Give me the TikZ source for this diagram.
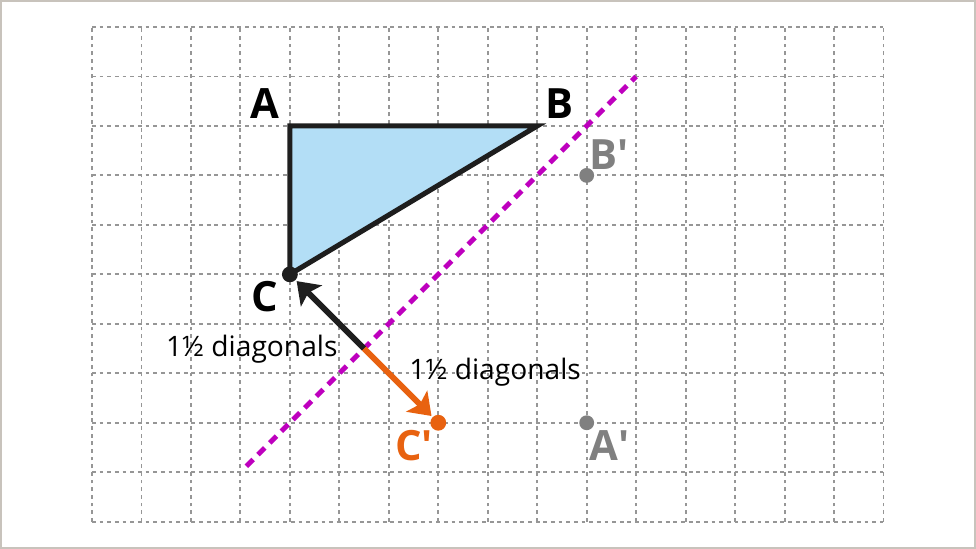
\documentclass[tikz,border=0pt]{standalone}
\usepackage{fontspec}
\setmainfont{Open Sans}
\usetikzlibrary{arrows.meta}
\definecolor{gridgray}{RGB}{150,150,150}
\definecolor{triblue}{RGB}{179,222,246}
\definecolor{mirror}{RGB}{190,0,190}
\definecolor{orng}{RGB}{232,98,16}
\definecolor{ptgray}{RGB}{128,128,128}
\definecolor{framegray}{RGB}{200,195,188}
\definecolor{ink}{RGB}{30,30,30}
\tikzset{
  gridline/.style={gridgray, line width=1.1pt, dash pattern=on 2.2pt off 2.2pt},
  tri/.style={ink, line width=2.9pt, line join=miter, fill=triblue},
  mirrorline/.style={mirror, line width=2.9pt, dash pattern=on 5.5pt off 4pt},
  dot/.style={circle, inner sep=0pt, minimum size=#1},
  vlabel/.style={font=\fontsize{24}{28}\selectfont\bfseries, inner sep=0pt},
  dlabel/.style={font=\fontsize{16.2}{19}\selectfont, inner sep=0pt},
  arr/.style={line width=3.4pt, -{Stealth[length=12pt, width=17pt, inset=2.5pt]}},
}
\begin{document}
\begin{tikzpicture}[x=1cm, y=-1cm]
\useasboundingbox (-1.860,-0.546) rectangle (17.870,10.552);
\draw[framegray, line width=1.5pt] (-1.845,-0.531) rectangle (17.855,10.537);
\draw[gridline] (0,0) grid (16,10);
% points
\coordinate (A) at (4,2);
\coordinate (B) at (9,2);
\coordinate (C) at (4,5);
\coordinate (Bp) at (10,3);
\coordinate (Ap) at (10,8);
\coordinate (Cp) at (7,8);
\coordinate (M) at (5.5,6.5);
\coordinate (L1) at (3.12,8.88);
\coordinate (L2) at (11,1);
% triangle
\draw[tri] (A) -- (B) -- (C) -- cycle;
% mirror line
\draw[mirrorline] (L1) -- (L2);
% arrows
\draw[arr, ink, shorten >=5.5pt] (M) -- (C);
\draw[arr, orng, shorten >=5.5pt] (M) -- (Cp);
% dots
\node[dot=0.32cm, fill=ink] (Cdot) at (C) {};
\node[dot=0.32cm, fill=orng] (Cpdot) at (Cp) {};
\node[dot=0.30cm, fill=ptgray] (Bpdot) at (Bp) {};
\node[dot=0.30cm, fill=ptgray] (Apdot) at (Ap) {};
% labels
\node[vlabel, text=black] (Alab) at (3.50,1.54) {A};
\node[vlabel, text=black] (Blab) at (9.46,1.54) {B};
\node[vlabel, text=black] (Clab) at (3.50,5.44) {C};
\node[vlabel, text=ptgray] (Bplab) at (10.45,2.57) {B\textquotesingle};
\node[vlabel, text=orng] (Cplab) at (6.51,8.47) {C\textquotesingle};
\node[vlabel, text=ptgray] (Aplab) at (10.47,8.47) {A\textquotesingle};
\node[dlabel, text=black] (d1) at (3.23,6.51) {1½ diagonals};
\node[dlabel, text=black] (d2) at (8.15,6.97) {1½ diagonals};
\end{tikzpicture}
\end{document}
